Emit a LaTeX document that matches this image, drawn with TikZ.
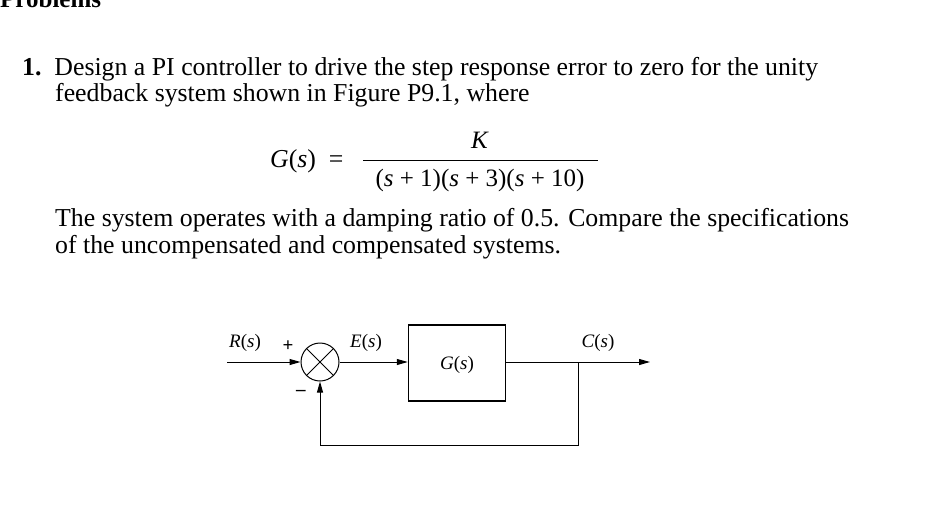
\documentclass[tikz,border=0pt]{standalone}
\usepackage{fontspec}
\setmainfont{Liberation Serif}
\usetikzlibrary{arrows.meta}
\newcommand{\vs}{\textit{s}}
\begin{document}
\begin{tikzpicture}[x=1pt,y=-1pt,
  txt/.style={anchor=base west,inner sep=0,font=\fontsize{25.8}{26}\selectfont},
  lbl/.style={inner sep=0,font=\fontsize{19}{20}\selectfont},
  sig/.style={line width=1pt,-{Triangle[length=11pt,width=6pt]}},
  ln/.style={line width=1pt}]
\useasboundingbox (0,0) rectangle (945,509);
\begin{scope}
\clip (0,0) rectangle (945,509);
\node[txt,font=\fontsize{25}{26}\selectfont\bfseries] (hdr) at (0,7) {Problems};
\end{scope}
\node[txt] (l1) at (22,75) {\textbf{1.}\ \ Design a PI controller to drive the step response error to zero for the unity};
\node[txt] (l2) at (55,101) {feedback system shown in Figure P9.1, where};
\node[txt] (gs) at (270,167) {\textit{G}(\vs)\ \ =};
\node[inner sep=0,font=\fontsize{25}{26}\selectfont,anchor=base] (num) at (480,148) {\textit{K}};
\node[inner sep=0,font=\fontsize{25}{26}\selectfont,anchor=base] (den) at (480,186) {(\vs\ + 1)(\vs\ + 3)(\vs\ + 10)};
\draw[line width=0.6pt] (363,160) -- (598,160);
\node[txt] (l3) at (55,226) {The system operates with a damping ratio of 0.5. Compare the specifications};
\node[txt] (l4) at (55,253) {of the uncompensated and compensated systems.};
% diagram
\node[circle,draw,line width=1pt,minimum size=38pt,inner sep=0] (sum) at (320,362) {};
\draw[line width=1pt] (sum.north west) -- (sum.south east) (sum.north east) -- (sum.south west);
\node[draw,line width=1.5pt,minimum width=97pt,minimum height=76pt,inner sep=0] (G) at (457,363) {};
\node[lbl] (Gl) at (457,365) {\textit{G}(\vs)};
\coordinate (in) at (227,362);
\coordinate (br) at (578,362);
\coordinate (out) at (650,362);
\coordinate (bot) at (578,445);
\draw[sig] (in) -- (sum.west);
\draw[sig] (sum.east) -- (G.west|-sum.east);
\draw[ln] (G.east|-br) -- (br);
\draw[sig] (br) -- (out);
\draw[sig] (br) -- (bot) -- (sum.south|-bot) -- (sum.south);
\node[lbl] (R) at (245,343) {\textit{R}(\vs)};
\node[lbl,font=\fontsize{19}{20}\selectfont\bfseries] (plus) at (288,346) {+};
\node[lbl] (minus) at (301,393) {\textbf{--}};
\node[lbl] (E) at (366,343) {\textit{E}(\vs)};
\node[lbl] (C) at (598,343) {\textit{C}(\vs)};
\end{tikzpicture}
\end{document}
